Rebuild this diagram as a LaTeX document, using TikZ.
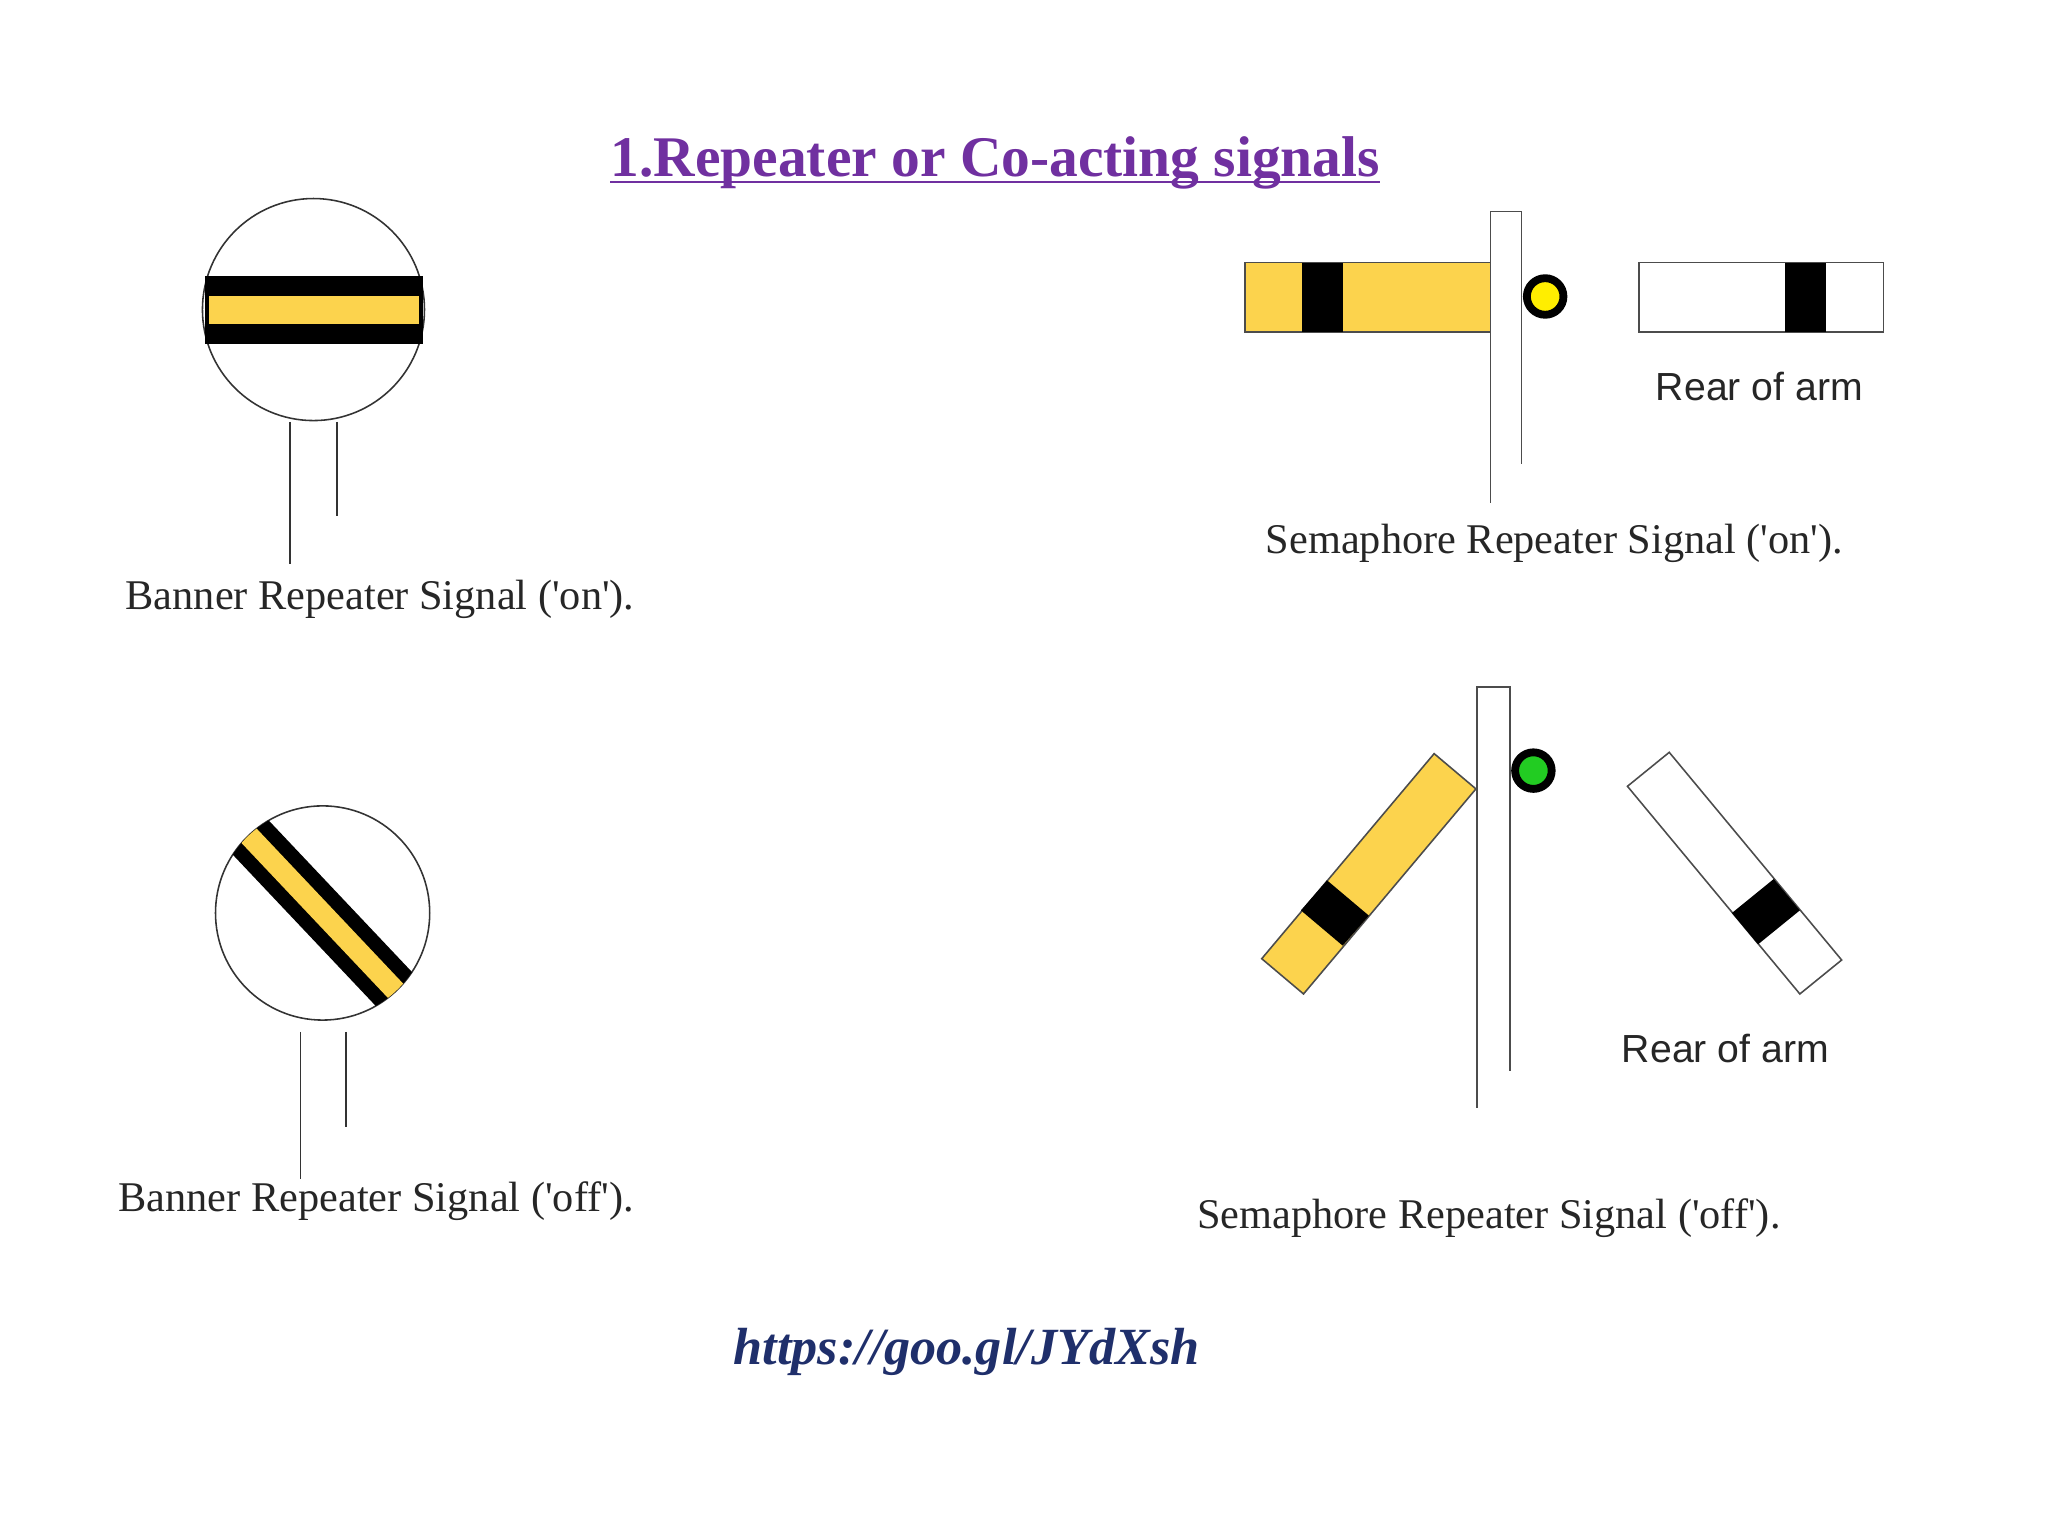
\documentclass[tikz,border=0pt]{standalone}
\usepackage{fontspec}
\setmainfont{Liberation Serif}
\newfontfamily\armfont{Liberation Sans}
\definecolor{sigyel}{HTML}{FCD34D}
\definecolor{titlepurple}{HTML}{7030A0}
\definecolor{urlblue}{HTML}{1F2F6B}
\definecolor{lampgreen}{HTML}{22CC22}
\definecolor{lampyel}{HTML}{FFEE00}
\newcommand{\sq}{\textquotesingle}
\begin{document}
\begin{tikzpicture}[x=0.5pt,y=-0.5pt,
  captxt/.style={font=\fontsize{16.2}{19}\selectfont, text=black!85},
  reartxt/.style={font=\armfont\fontsize{15}{18}\selectfont, text=black!85},
  postline/.style={draw=black!80, line width=0.6pt},
  armline/.style={draw=black!70, line width=0.6pt}]
\useasboundingbox (0,0) rectangle (1568,1176);
\fill[white] (0,0) rectangle (1568,1176);

\node[font=\bfseries\fontsize{22}{26}\selectfont, text=titlepurple, inner sep=0pt] (title) at (762,125) {1.Repeater or Co-acting signals};
\draw[titlepurple, line width=1pt] ([yshift=-2pt]title.base west) -- ([yshift=-2pt]title.base east);

% Banner on
\draw[postline] (222,323) -- (222,432);
\draw[postline] (258,323) -- (258,395);
\draw[postline, fill=white] (240,237) circle (85);
\fill[black] (157,211) rectangle (324,263);
\fill[sigyel] (160,227) rectangle (321,248);
\node[captxt] (c1) at (291,459) {Banner Repeater Signal (\sq on\sq).};

% Banner off
\draw[postline] (230,790) -- (230,903);
\draw[postline] (265,790) -- (265,863);
\draw[postline, fill=white] (247,699) circle (82);
\begin{scope}
\clip (247,699) circle (82);
\draw[black, line width=19pt] (170,618) -- (325,782);
\draw[sigyel, line width=8pt] (170,618) -- (325,782);
\end{scope}
\node[captxt] (c2) at (288,920) {Banner Repeater Signal (\sq off\sq).};

% Semaphore on
\fill[white] (1141,162) rectangle (1165,355);
\draw[armline] (1141,385) -- (1141,162) -- (1165,162) -- (1165,355);
\draw[armline, fill=sigyel] (953,201) rectangle (1141,254);
\fill[black] (997,201) rectangle (1028,254);
\draw[black, line width=3pt, fill=lampyel] (1183,227) circle (14);
\draw[armline, fill=white] (1255,201) rectangle (1442,254);
\fill[black] (1367,201) rectangle (1398,254);
\node[reartxt] (r1) at (1347,296) {Rear of arm};
\node[captxt] (c3) at (1190,416) {Semaphore Repeater Signal (\sq on\sq).};

% Semaphore off
\fill[white] (1131,526) rectangle (1156,820);
\draw[armline] (1131,848) -- (1131,526) -- (1156,526) -- (1156,820);
\draw[black, line width=3pt, fill=lampgreen] (1174,590) circle (14);
\draw[armline, fill=sigyel] (1130,604) -- (1098,577) -- (966,734) -- (998,761) -- cycle;
\fill[black] (1048,701) -- (1016,674) -- (996,697) -- (1028,724) -- cycle;
\draw[armline, fill=white] (1278,576) -- (1246,602) -- (1378,761) -- (1410,735) -- cycle;
\fill[black] (1358,673) -- (1326,699) -- (1346,723) -- (1378,697) -- cycle;
\node[reartxt] (r2) at (1321,803) {Rear of arm};
\node[captxt] (c4) at (1140,933) {Semaphore Repeater Signal (\sq off\sq).};

\node[font=\bfseries\itshape\fontsize{20}{24}\selectfont, text=urlblue] (url) at (740,1035) {https://goo.gl/JYdXsh};
\end{tikzpicture}
\end{document}
